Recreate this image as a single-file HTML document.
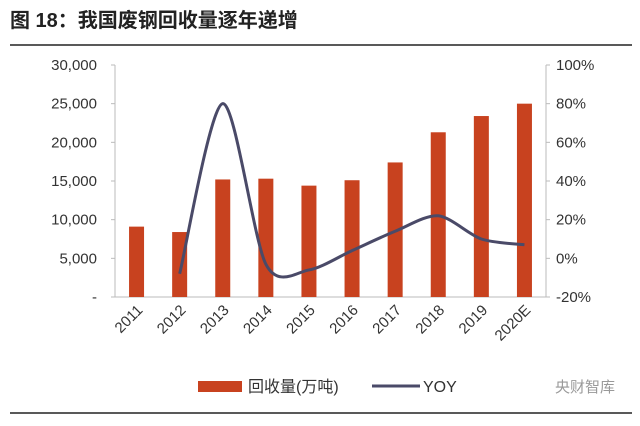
<!DOCTYPE html>
<html><head><meta charset="utf-8"><style>
body{margin:0;width:640px;height:421px;background:#fff;overflow:hidden;font-family:"Liberation Sans","Noto Sans CJK SC",sans-serif}
</style></head><body>
<svg width="640" height="421" font-family="Liberation Sans, Noto Sans CJK SC, sans-serif">
<text x="10" y="27" font-size="20" font-weight="bold" fill="#222">图 18：我国废钢回收量逐年递增</text>
<line x1="10" y1="45" x2="632" y2="45" stroke="#222" stroke-width="1.5"/>
<line x1="10" y1="413" x2="632" y2="413" stroke="#222" stroke-width="1.5"/>
<g id="axes"></g><g id="bars"></g><g id="line"></g>
<g>
<rect x="198" y="381" width="44" height="11" fill="#c8421f"/>
<text x="248" y="392" font-size="16" fill="#333">回收量(万吨)</text>
<line x1="372" y1="386" x2="420" y2="386" stroke="#4a4a68" stroke-width="3"/>
<text x="423" y="392" font-size="16" fill="#333">YOY</text>
</g>
<text x="555" y="392" font-size="15" fill="#999">央财智库</text>
</svg>
<script>
const categories=["2011","2012","2013","2014","2015","2016","2017","2018","2019","2020E"];
const volume=[9100,8400,15200,15300,14400,15100,17400,21300,23400,25000];
const yoy=[null,-8,80,-3,-6,4,14,22,10,7];
const leftTicks=[0,5000,10000,15000,20000,25000,30000];
const rightTicks=[-20,0,20,40,60,80,100];
const NS="http://www.w3.org/2000/svg";
const X0=115,X1=546,Y0=297,Y1=65;
const bw=(X1-X0)/categories.length;
const xc=i=>X0+bw*(i+0.5);
const yl=v=>Y0-(v-0)/30000*(Y0-Y1);
const yr=v=>Y0-(v+20)/120*(Y0-Y1);
function mk(tag,attrs,parent){const e=document.createElementNS(NS,tag);for(const k in attrs)e.setAttribute(k,attrs[k]);document.getElementById(parent).appendChild(e);return e;}
let e;
e=mk("path",{d:`M${X0},${Y1}V${Y0}H${X1}V${Y1}`,fill:"none",stroke:"#bbb","stroke-width":1},"axes");


leftTicks.forEach(t=>{
 const tx=mk("text",{x:97,y:yl(t)+5,"font-size":15,fill:"#333","text-anchor":"end"},"axes");
 tx.textContent=t===0?"-":t.toLocaleString("en-US");
 
 
 const l=mk("line",{x1:X0-4,x2:X0,y1:yl(t),y2:yl(t),stroke:"#bbb"},"axes");
 
 
});
rightTicks.forEach(t=>{
 const tx=mk("text",{x:556,y:yr(t)+5,"font-size":15,fill:"#333"},"axes");
 tx.textContent=t+"%";
 
 
 const l=mk("line",{x1:X1,x2:X1+4,y1:yr(t),y2:yr(t),stroke:"#bbb"},"axes");
 
 
});
categories.forEach((c,i)=>{
 const x=xc(i);
 const tx=mk("text",{x:x+7,y:Y0+14,"font-size":15,fill:"#333","text-anchor":"end",transform:`rotate(-45 ${x+7} ${Y0+14})`},"axes");
 tx.textContent=c;
 
 
 const r=mk("rect",{x:x-7.5,y:yl(volume[i]),width:15,height:Y0-yl(volume[i]),fill:"#c8421f"},"bars");
 
 
});
const pts=[];yoy.forEach((v,i)=>{if(v!==null)pts.push([xc(i),yr(v)]);});
let d=`M${pts[0][0]},${pts[0][1]}`;
for(let i=0;i<pts.length-1;i++){
 const p0=pts[Math.max(i-1,0)],p1=pts[i],p2=pts[i+1],p3=pts[Math.min(i+2,pts.length-1)];
 const t=1/7;
 d+=` C${p1[0]+(p2[0]-p0[0])*t},${p1[1]+(p2[1]-p0[1])*t} ${p2[0]-(p3[0]-p1[0])*t},${p2[1]-(p3[1]-p1[1])*t} ${p2[0]},${p2[1]}`;
}
e=mk("path",{d:d,fill:"none",stroke:"#4a4a68","stroke-width":3},"line");


</script>
</body></html>
